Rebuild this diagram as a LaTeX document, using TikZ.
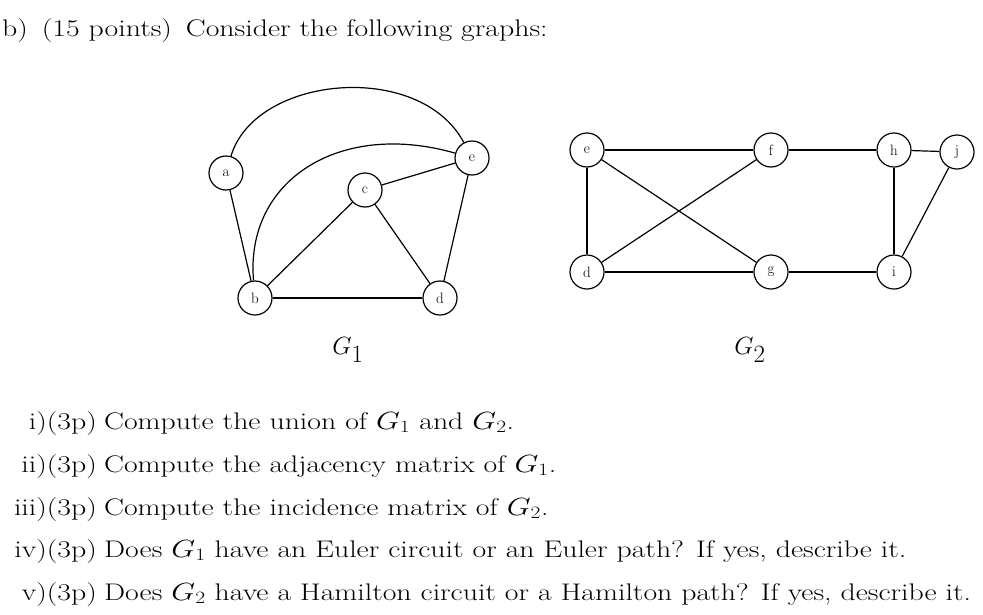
\documentclass[tikz,border=0pt]{standalone}
\newcommand{\widetxt}[1]{\scalebox{1.24}[1]{#1}}
\begin{document}
\begin{tikzpicture}[x=1pt,y=-1pt,
  v/.style={circle,draw,line width=1.2pt,minimum size=34pt,inner sep=0pt,font=\fontsize{15}{17}\selectfont},
  e/.style={line width=1.2pt},
  txt/.style={anchor=base west,inner sep=0pt,font=\fontsize{24}{28}\selectfont},
  lab/.style={anchor=base east,inner sep=0pt,font=\fontsize{24}{28}\selectfont}]
\useasboundingbox (0,0) rectangle (983,614);
\node[txt] (t0) at (2,36) {\widetxt{b)\, (15 points)\, Consider the following graphs:}};
% G1
\node[v] (a) at (226,173) {a};
\node[v] (b) at (255,298) {b};
\node[v] (c) at (365,190) {c};
\node[v] (d) at (440,298) {d};
\node[v] (e) at (472,158) {e};
\draw[e] (a) -- (b); \draw[e] (b) -- (c); \draw[e] (c) -- (e); \draw[e] (c) -- (d);
\draw[e] (b) -- (d); \draw[e] (e) -- (d);
\draw[e] (a) .. controls (255,75) and (420,60) .. (e);
\draw[e] (b) .. controls (245,180) and (340,120) .. (e);
\node[font=\fontsize{34}{38}\selectfont] (g1) at (348,350) {$G_1$};
% G2
\node[v] (e2) at (587,150) {e};
\node[v] (f2) at (771,150) {f};
\node[v] (h2) at (894,150) {h};
\node[v] (j2) at (957,152) {j};
\node[v] (d2) at (587,272) {d};
\node[v] (g2) at (771,272) {g};
\node[v] (i2) at (894,272) {i};
\draw[e] (e2) -- (f2); \draw[e] (f2) -- (h2); \draw[e] (h2) -- (j2);
\draw[e] (e2) -- (d2); \draw[e] (e2) -- (g2); \draw[e] (d2) -- (f2);
\draw[e] (d2) -- (g2); \draw[e] (g2) -- (i2); \draw[e] (h2) -- (i2); \draw[e] (i2) -- (j2);
\node[font=\fontsize{34}{38}\selectfont] (g2l) at (750,350) {$G_2$};
% questions
\node[lab] (l1) at (97,429) {\widetxt{i)(3p)}};
\node[txt] (q1) at (104,429) {\widetxt{Compute the union of $G_1$ and $G_2$.}};
\node[lab] (l2) at (97,472) {\widetxt{ii)(3p)}};
\node[txt] (q2) at (104,472) {\widetxt{Compute the adjacency matrix of $G_1$.}};
\node[lab] (l3) at (97,515) {\widetxt{iii)(3p)}};
\node[txt] (q3) at (104,515) {\widetxt{Compute the incidence matrix of $G_2$.}};
\node[lab] (l4) at (97,557) {\widetxt{iv)(3p)}};
\node[txt] (q4) at (104,557) {\widetxt{Does $G_1$ have an Euler circuit or an Euler path? If yes, describe it.}};
\node[lab] (l5) at (97,600) {\widetxt{v)(3p)}};
\node[txt] (q5) at (104,600) {\widetxt{Does $G_2$ have a Hamilton circuit or a Hamilton path? If yes, describe it.}};
\end{tikzpicture}
\end{document}
